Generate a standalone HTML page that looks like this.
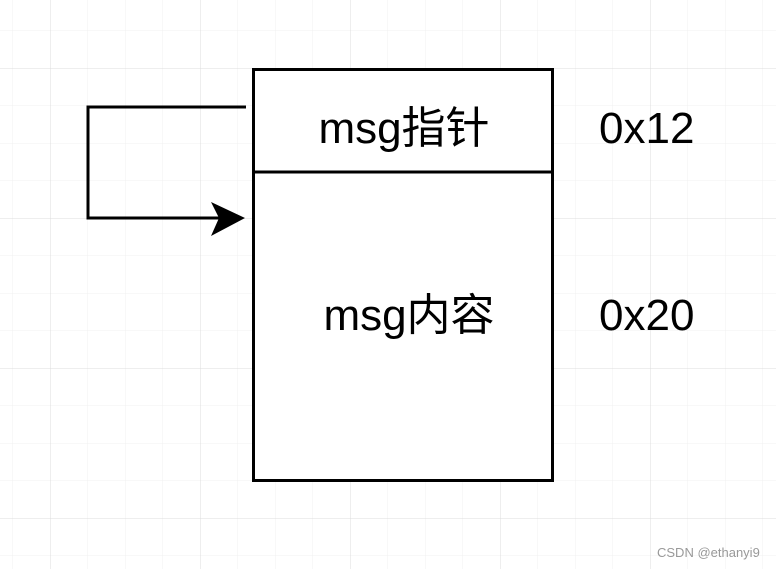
<!DOCTYPE html>
<html><head><meta charset="utf-8"><style>
body{margin:0;width:776px;height:569px;overflow:hidden;background:#fff}
</style></head><body>
<svg width="776" height="569" xmlns="http://www.w3.org/2000/svg">
<defs>
<pattern id="minor" width="37.5" height="37.5" patternUnits="userSpaceOnUse" x="12.5" y="30.5">
<path d="M0 0H37.5M0 0V37.5" stroke="#f0f0f0" stroke-width="1" fill="none"/>
</pattern>
<pattern id="major" width="150" height="150" patternUnits="userSpaceOnUse" x="50" y="68">
<path d="M0 0H150M0 0V150" stroke="#dcdcdc" stroke-width="1" fill="none"/>
</pattern>
</defs>
<rect width="776" height="569" fill="url(#minor)"/>
<rect width="776" height="569" fill="url(#major)"/>
<rect x="253.5" y="69.5" width="299" height="411" fill="#fff" stroke="#000" stroke-width="3"/>
<line x1="253" y1="172" x2="553" y2="172" stroke="#000" stroke-width="3"/>
<polyline points="246,107 88,107 88,218 225,218" fill="none" stroke="#000" stroke-width="3"/>
<polygon points="245,218 211,202 219,218 211,236" fill="#000"/>
<g font-family="Liberation Sans, Noto Sans CJK SC, sans-serif" font-size="44" fill="#000">
<text x="404" y="143" text-anchor="middle">msg指针</text>
<text x="409" y="330" text-anchor="middle">msg内容</text>
<text x="599" y="143">0x12</text>
<text x="599" y="330">0x20</text>
</g>
<text x="657" y="557" font-family="Liberation Sans, sans-serif" font-size="13" fill="#999">CSDN @ethanyi9</text>
</svg>
</body></html>
